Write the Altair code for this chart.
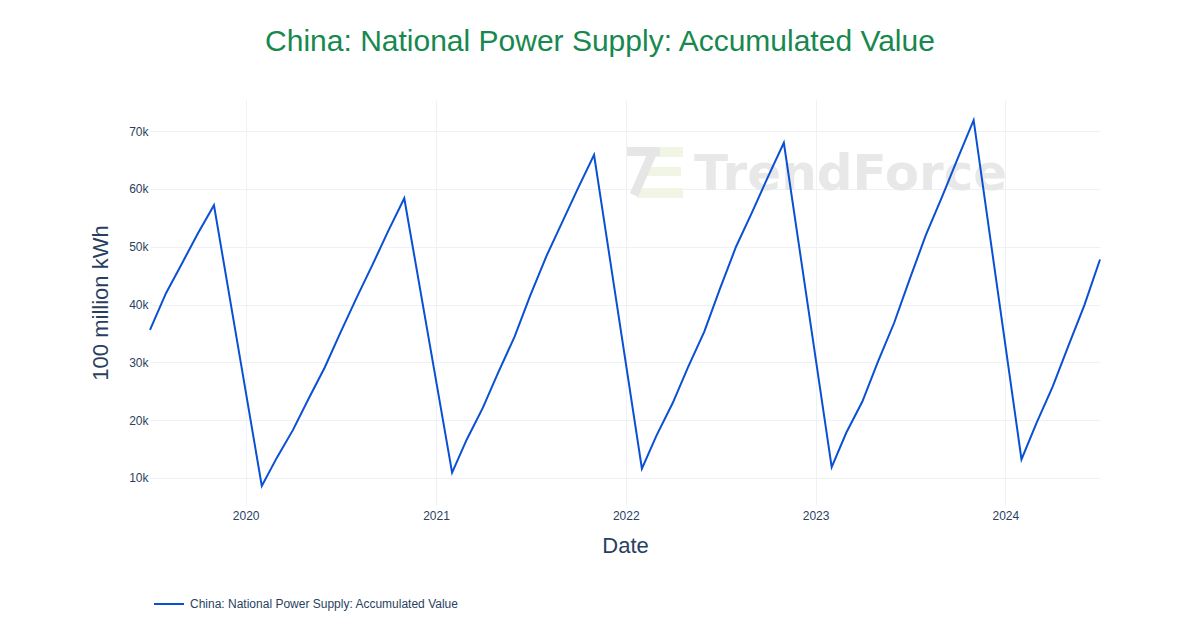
import altair as alt
import pandas as pd

# Monthly accumulated values (100 million kWh); Jan and Dec are not reported
dates = [
    "2019-07-01", "2019-08-01", "2019-09-01", "2019-10-01", "2019-11-01",
    "2020-02-01", "2020-03-01", "2020-04-01", "2020-05-01", "2020-06-01",
    "2020-07-01", "2020-08-01", "2020-09-01", "2020-10-01", "2020-11-01",
    "2021-02-01", "2021-03-01", "2021-04-01", "2021-05-01", "2021-06-01",
    "2021-07-01", "2021-08-01", "2021-09-01", "2021-10-01", "2021-11-01",
    "2022-02-01", "2022-03-01", "2022-04-01", "2022-05-01", "2022-06-01",
    "2022-07-01", "2022-08-01", "2022-09-01", "2022-10-01", "2022-11-01",
    "2023-02-01", "2023-03-01", "2023-04-01", "2023-05-01", "2023-06-01",
    "2023-07-01", "2023-08-01", "2023-09-01", "2023-10-01", "2023-11-01",
    "2024-02-01", "2024-03-01", "2024-04-01", "2024-05-01", "2024-06-01",
    "2024-07-01",
]
values = [
    35600, 42000, 47200, 52300, 57200,
    8600, 13500, 18300, 23700, 29100,
    35100, 41100, 46900, 52700, 58400,
    10900, 16600, 22100, 28300, 34400,
    41500, 48300, 54300, 60100, 65900,
    11600, 17300, 22900, 29200, 35300,
    42700, 50000, 56000, 62000, 68000,
    11850, 17800, 23200, 30100, 36800,
    44400, 52000, 58600, 65200, 71900,
    13200, 19500, 25800, 32800, 39900,
    47800,
]
series_name = "China: National Power Supply: Accumulated Value"
y_ticks = [10000, 20000, 30000, 40000, 50000, 60000, 70000]

df = pd.DataFrame({"date": dates, "value": values, "series": series_name})

FONT = "Liberation Sans"
TXT = "#2a3f5f"
GRID = "#eef1f5"
LINE = "#0a50d4"

W, H = 950, 405
OX, OY = 150, 100  # plot origin in page pixels

x_enc = alt.X(
    "date:T",
    scale=alt.Scale(
        type="utc",
        domain=[alt.DateTime(year=2019, month=7, date=1, utc=True),
                alt.DateTime(year=2024, month=7, date=1, utc=True)],
        nice=False,
    ),
    axis=alt.Axis(
        title="Date", format="%Y", formatType="utc",
        tickCount={"interval": "year", "step": 1},
        grid=True, gridColor=GRID, gridWidth=1,
        domain=False, ticks=False,
        labelFont=FONT, labelFontSize=12, labelColor=TXT, labelPadding=5,
        titleFont=FONT, titleFontSize=22, titleColor=TXT, titleFontWeight="normal",
        titleX=W / 2, titleY=40, titleBaseline="middle", titleAlign="center",
    ),
)
y_enc = alt.Y(
    "value:Q",
    scale=alt.Scale(domain=[5300, 75400], nice=False, zero=False),
    axis=alt.Axis(
        title="100 million kWh", values=y_ticks, format="~s",
        grid=True, gridColor=GRID, gridWidth=1,
        domain=False, ticks=False,
        labelFont=FONT, labelFontSize=12, labelColor=TXT, labelPadding=2,
        titleFont=FONT, titleFontSize=22, titleColor=TXT, titleFontWeight="normal",
        titleX=-50, titleY=H / 2, titleAngle=-90, titleBaseline="middle",
        titleAlign="center",
    ),
)

line = alt.Chart(df).mark_line(strokeWidth=2).encode(
    x=x_enc,
    y=y_enc,
    color=alt.Color(
        "series:N",
        scale=alt.Scale(range=[LINE]),
        legend=alt.Legend(
            orient="none", legendX=3, legendY=488, title=None,
            symbolType="stroke", symbolSize=900, symbolStrokeWidth=2,
            labelFont=FONT, labelFontSize=12, labelColor=TXT,
            labelOffset=5, labelLimit=0, padding=0,
        ),
    ),
)

one = pd.DataFrame({"t": ["TrendForce"]})
watermark = alt.Chart(one).mark_text(
    font="DejaVu Sans", fontWeight="bold", fontSize=50, color="#e8e8e8",
    align="left", baseline="alphabetic",
).encode(x=alt.value(694 - OX), y=alt.value(190 - OY), text="t:N")

# watermark logo (decorative)
logo_grey_bar = alt.Chart(one).mark_rect(color="#e6e6e6").encode(
    x=alt.value(627 - OX), x2=alt.value(660 - OX),
    y=alt.value(147 - OY), y2=alt.value(156 - OY),
)
logo_grey_stem = alt.Chart(one).mark_rule(color="#e6e6e6", strokeWidth=9).encode(
    x=alt.value(652 - OX), x2=alt.value(634 - OX),
    y=alt.value(154 - OY), y2=alt.value(195 - OY),
)
logo_green = alt.Chart(pd.DataFrame({
    "a": [647, 642, 637], "b": [683, 681, 683], "c": [147, 167, 188], "d": [157, 176, 198],
})).mark_rect(color="#f1f6e4").encode(
    x=alt.X("a:Q", scale=None), x2="b:Q",
    y=alt.Y("c:Q", scale=None), y2="d:Q",
).transform_calculate(
    a=f"datum.a - {OX}", b=f"datum.b - {OX}", c=f"datum.c - {OY}", d=f"datum.d - {OY}",
)

title_df = pd.DataFrame({"t": [series_name]})
title = alt.Chart(title_df).mark_text(
    font=FONT, fontSize=30, color="#17884e", align="center", baseline="alphabetic",
).encode(x=alt.value(600 - OX), y=alt.value(51 - OY), text="t:N")

chart = alt.layer(
    logo_green, logo_grey_bar, logo_grey_stem, watermark, line, title
).properties(
    width=W, height=H,
    autosize=alt.AutoSizeParams(type="none"),
    padding={"left": OX, "top": OY, "right": 100, "bottom": 125},
    background="white",
).configure_view(stroke=None)

chart.save("out.html", embed_options={"renderer": "svg", "actions": False})
